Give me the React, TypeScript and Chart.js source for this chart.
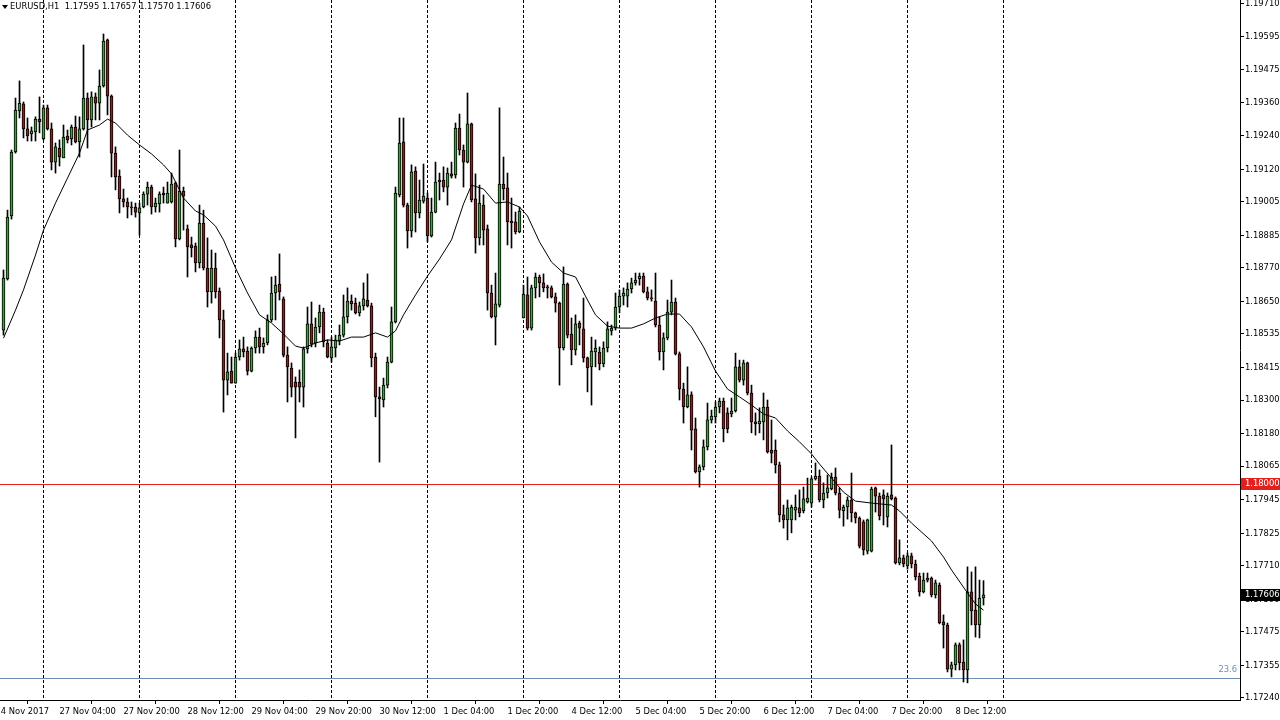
import React, { useEffect, useRef } from 'react';
import { Chart, registerables } from 'chart.js';

Chart.register(...registerables);

// ---- data (hourly bars, index 0 = 24 Nov 2017 14:00) ----
const opens = [
  1.18549, 1.18731, 1.18955, 1.19183, 1.19329, 1.19354, 1.19265, 1.19247, 1.19254, 1.19300,
  1.19229, 1.19340, 1.19265, 1.19147, 1.19197, 1.19162, 1.19240, 1.19229, 1.19272, 1.19219,
  1.19265, 1.19375, 1.19297, 1.19379, 1.19357, 1.19418, 1.19582, 1.19382, 1.19179, 1.19097,
  1.19016, 1.19005, 1.18987, 1.18987, 1.18966, 1.18987, 1.19033, 1.19058, 1.18987, 1.18998,
  1.19037, 1.19001, 1.19005, 1.19073, 1.18873, 1.19044, 1.18909, 1.18852, 1.18848, 1.18788,
  1.18930, 1.18770, 1.18685, 1.18770, 1.18688, 1.18585, 1.18371, 1.18403, 1.18360, 1.18453,
  1.18482, 1.18474, 1.18403, 1.18485, 1.18524, 1.18489, 1.18503, 1.18585, 1.18681, 1.18713,
  1.18660, 1.18460, 1.18414, 1.18364, 1.18364, 1.18346, 1.18482, 1.18571, 1.18503, 1.18560,
  1.18613, 1.18503, 1.18450, 1.18485, 1.18510, 1.18531, 1.18596, 1.18652, 1.18645, 1.18610,
  1.18635, 1.18656, 1.18635, 1.18453, 1.18311, 1.18300, 1.18353, 1.18435, 1.18578, 1.19030,
  1.19219, 1.18994, 1.18902, 1.19115, 1.18966, 1.19008, 1.19019, 1.18884, 1.18969, 1.19076,
  1.19083, 1.19058, 1.19105, 1.19101, 1.19268, 1.19190, 1.19147, 1.19283, 1.19016, 1.18877,
  1.18994, 1.18909, 1.18681, 1.18596, 1.18638, 1.19069, 1.19055, 1.18937, 1.18934, 1.18898,
  1.18592, 1.18674, 1.18556, 1.18699, 1.18738, 1.18717, 1.18702, 1.18699, 1.18667, 1.18645,
  1.18485, 1.18713, 1.18535, 1.18478, 1.18574, 1.18553, 1.18450, 1.18418, 1.18471, 1.18471,
  1.18428, 1.18485, 1.18546, 1.18556, 1.18631, 1.18670, 1.18670, 1.18695, 1.18717, 1.18731,
  1.18741, 1.18685, 1.18663, 1.18652, 1.18567, 1.18471, 1.18521, 1.18613, 1.18649, 1.18464,
  1.18339, 1.18275, 1.18318, 1.18197, 1.18044, 1.18062, 1.18133, 1.18229, 1.18240, 1.18275,
  1.18296, 1.18254, 1.18250, 1.18261, 1.18418, 1.18371, 1.18432, 1.18325, 1.18222, 1.18215,
  1.18222, 1.18275, 1.18122, 1.18122, 1.18069, 1.17891, 1.17873, 1.17873, 1.17908, 1.17916,
  1.17905, 1.17937, 1.17933, 1.18019, 1.18029, 1.17944, 1.17969, 1.17983, 1.18026, 1.17969,
  1.17905, 1.17919, 1.17944, 1.17898, 1.17880, 1.17866, 1.17762, 1.17762, 1.17987, 1.17958,
  1.17962, 1.17884, 1.17962, 1.17951, 1.17720, 1.17738, 1.17709, 1.17745, 1.17716, 1.17673,
  1.17617, 1.17659, 1.17666, 1.17606, 1.17641, 1.17510, 1.17499, 1.17342, 1.17357, 1.17428,
  1.17367, 1.17339, 1.17617, 1.17552, 1.17499, 1.17595,
];

const highs = [
  1.18763, 1.18976, 1.19190, 1.19375, 1.19436, 1.19361, 1.19304, 1.19272, 1.19308, 1.19379,
  1.19350, 1.19350, 1.19286, 1.19215, 1.19226, 1.19279, 1.19261, 1.19279, 1.19311, 1.19308,
  1.19564, 1.19393, 1.19397, 1.19393, 1.19475, 1.19603, 1.19585, 1.19386, 1.19201, 1.19119,
  1.19051, 1.19019, 1.19005, 1.19001, 1.19001, 1.19041, 1.19076, 1.19065, 1.19019, 1.19041,
  1.19058, 1.19076, 1.19108, 1.19076, 1.19190, 1.19058, 1.18923, 1.18880, 1.18859, 1.18994,
  1.18976, 1.18877, 1.18834, 1.18823, 1.18699, 1.18620, 1.18467, 1.18453, 1.18467, 1.18514,
  1.18524, 1.18489, 1.18489, 1.18546, 1.18556, 1.18521, 1.18603, 1.18738, 1.18741, 1.18820,
  1.18667, 1.18489, 1.18432, 1.18382, 1.18407, 1.18489, 1.18631, 1.18649, 1.18592, 1.18638,
  1.18627, 1.18514, 1.18524, 1.18531, 1.18567, 1.18674, 1.18699, 1.18674, 1.18663, 1.18649,
  1.18717, 1.18749, 1.18645, 1.18467, 1.18346, 1.18378, 1.18453, 1.18631, 1.19058, 1.19304,
  1.19304, 1.19001, 1.19137, 1.19130, 1.19083, 1.19140, 1.19037, 1.19019, 1.19147, 1.19108,
  1.19130, 1.19126, 1.19147, 1.19286, 1.19318, 1.19208, 1.19393, 1.19286, 1.19105, 1.19065,
  1.19030, 1.18923, 1.18709, 1.18752, 1.19340, 1.19165, 1.19108, 1.19019, 1.18969, 1.18987,
  1.18709, 1.18738, 1.18709, 1.18752, 1.18745, 1.18749, 1.18709, 1.18706, 1.18681, 1.18649,
  1.18774, 1.18717, 1.18592, 1.18603, 1.18581, 1.18663, 1.18453, 1.18524, 1.18514, 1.18489,
  1.18507, 1.18578, 1.18567, 1.18681, 1.18692, 1.18699, 1.18717, 1.18734, 1.18752, 1.18752,
  1.18752, 1.18702, 1.18692, 1.18752, 1.18596, 1.18539, 1.18656, 1.18727, 1.18663, 1.18471,
  1.18360, 1.18418, 1.18329, 1.18236, 1.18069, 1.18158, 1.18289, 1.18264, 1.18293, 1.18307,
  1.18307, 1.18272, 1.18307, 1.18467, 1.18442, 1.18442, 1.18435, 1.18353, 1.18254, 1.18272,
  1.18325, 1.18300, 1.18229, 1.18158, 1.18079, 1.17926, 1.17944, 1.17926, 1.17962, 1.17980,
  1.17990, 1.18022, 1.18026, 1.18076, 1.18051, 1.18005, 1.18033, 1.18040, 1.18058, 1.17987,
  1.17926, 1.17955, 1.18040, 1.17901, 1.17884, 1.17873, 1.17876, 1.17990, 1.17990, 1.17969,
  1.17980, 1.17969, 1.18140, 1.17955, 1.17802, 1.17748, 1.17755, 1.17755, 1.17730, 1.17684,
  1.17684, 1.17684, 1.17670, 1.17659, 1.17649, 1.17535, 1.17506, 1.17367, 1.17435, 1.17435,
  1.17446, 1.17706, 1.17688, 1.17706, 1.17659, 1.17657,
];

const lows = [
  1.18531, 1.18727, 1.18944, 1.19179, 1.19304, 1.19233, 1.19222, 1.19222, 1.19222, 1.19251,
  1.19226, 1.19261, 1.19119, 1.19108, 1.19133, 1.19162, 1.19215, 1.19208, 1.19215, 1.19165,
  1.19261, 1.19197, 1.19272, 1.19297, 1.19297, 1.19414, 1.19315, 1.19094, 1.19048, 1.18966,
  1.18987, 1.18948, 1.18959, 1.18951, 1.18887, 1.18984, 1.18994, 1.18962, 1.18969, 1.18969,
  1.19001, 1.19001, 1.19001, 1.18845, 1.18870, 1.18905, 1.18738, 1.18809, 1.18756, 1.18770,
  1.18763, 1.18631, 1.18645, 1.18663, 1.18521, 1.18257, 1.18318, 1.18360, 1.18360, 1.18442,
  1.18453, 1.18389, 1.18400, 1.18467, 1.18467, 1.18467, 1.18496, 1.18578, 1.18585, 1.18656,
  1.18453, 1.18293, 1.18311, 1.18165, 1.18293, 1.18275, 1.18467, 1.18489, 1.18489, 1.18539,
  1.18489, 1.18450, 1.18435, 1.18453, 1.18496, 1.18524, 1.18574, 1.18620, 1.18606, 1.18599,
  1.18620, 1.18631, 1.18418, 1.18240, 1.18079, 1.18275, 1.18343, 1.18432, 1.18574, 1.19023,
  1.18987, 1.18841, 1.18880, 1.18898, 1.18948, 1.19001, 1.18863, 1.18880, 1.18966, 1.19012,
  1.19041, 1.18994, 1.19090, 1.19090, 1.19172, 1.19058, 1.19144, 1.19005, 1.18823, 1.18852,
  1.18852, 1.18620, 1.18592, 1.18496, 1.18631, 1.19012, 1.18852, 1.18841, 1.18891, 1.18895,
  1.18592, 1.18549, 1.18549, 1.18663, 1.18667, 1.18685, 1.18663, 1.18663, 1.18613, 1.18353,
  1.18478, 1.18521, 1.18425, 1.18460, 1.18496, 1.18435, 1.18329, 1.18282, 1.18418, 1.18407,
  1.18418, 1.18471, 1.18531, 1.18549, 1.18610, 1.18638, 1.18631, 1.18681, 1.18709, 1.18709,
  1.18681, 1.18656, 1.18652, 1.18560, 1.18442, 1.18407, 1.18514, 1.18603, 1.18460, 1.18300,
  1.18218, 1.18272, 1.18122, 1.18040, 1.17990, 1.18051, 1.18122, 1.18218, 1.18218, 1.18254,
  1.18151, 1.18183, 1.18240, 1.18257, 1.18364, 1.18353, 1.18318, 1.18183, 1.18175, 1.18183,
  1.18158, 1.18111, 1.18076, 1.18040, 1.17866, 1.17844, 1.17802, 1.17827, 1.17873, 1.17884,
  1.17898, 1.17933, 1.17919, 1.18015, 1.17937, 1.17916, 1.17951, 1.17980, 1.17962, 1.17880,
  1.17851, 1.17876, 1.17866, 1.17862, 1.17773, 1.17748, 1.17752, 1.17759, 1.17901, 1.17873,
  1.17855, 1.17848, 1.17944, 1.17716, 1.17713, 1.17706, 1.17698, 1.17702, 1.17659, 1.17602,
  1.17613, 1.17652, 1.17599, 1.17595, 1.17503, 1.17417, 1.17332, 1.17314, 1.17339, 1.17339,
  1.17296, 1.17293, 1.17499, 1.17456, 1.17453, 1.17570,
];

const closes = [
  1.18734, 1.18951, 1.19183, 1.19332, 1.19357, 1.19265, 1.19240, 1.19258, 1.19300, 1.19290,
  1.19340, 1.19265, 1.19147, 1.19201, 1.19165, 1.19236, 1.19226, 1.19272, 1.19219, 1.19265,
  1.19375, 1.19297, 1.19379, 1.19357, 1.19418, 1.19578, 1.19382, 1.19179, 1.19094, 1.19016,
  1.19005, 1.18987, 1.18984, 1.18969, 1.18984, 1.19033, 1.19058, 1.18987, 1.19001, 1.19033,
  1.19030, 1.19037, 1.19069, 1.18873, 1.19044, 1.19026, 1.18845, 1.18841, 1.18788, 1.18930,
  1.18770, 1.18685, 1.18770, 1.18685, 1.18585, 1.18371, 1.18400, 1.18360, 1.18453, 1.18482,
  1.18471, 1.18403, 1.18485, 1.18524, 1.18489, 1.18503, 1.18585, 1.18681, 1.18709, 1.18685,
  1.18460, 1.18418, 1.18346, 1.18346, 1.18346, 1.18482, 1.18571, 1.18499, 1.18560, 1.18613,
  1.18507, 1.18453, 1.18489, 1.18514, 1.18531, 1.18596, 1.18652, 1.18642, 1.18610, 1.18635,
  1.18660, 1.18635, 1.18450, 1.18311, 1.18304, 1.18353, 1.18435, 1.18578, 1.19037, 1.19215,
  1.18994, 1.18902, 1.19112, 1.18966, 1.19012, 1.19026, 1.18884, 1.18969, 1.19076, 1.19083,
  1.19058, 1.19108, 1.19097, 1.19268, 1.19190, 1.19147, 1.19283, 1.19012, 1.18877, 1.19001,
  1.18905, 1.18681, 1.18596, 1.18642, 1.19069, 1.19051, 1.18934, 1.18930, 1.18898, 1.18973,
  1.18677, 1.18556, 1.18699, 1.18738, 1.18717, 1.18699, 1.18699, 1.18667, 1.18645, 1.18485,
  1.18713, 1.18531, 1.18478, 1.18571, 1.18556, 1.18450, 1.18414, 1.18474, 1.18485, 1.18428,
  1.18485, 1.18553, 1.18556, 1.18631, 1.18670, 1.18681, 1.18695, 1.18717, 1.18727, 1.18741,
  1.18685, 1.18663, 1.18660, 1.18567, 1.18471, 1.18521, 1.18613, 1.18649, 1.18464, 1.18339,
  1.18275, 1.18318, 1.18193, 1.18044, 1.18062, 1.18133, 1.18229, 1.18243, 1.18275, 1.18296,
  1.18197, 1.18197, 1.18261, 1.18418, 1.18371, 1.18432, 1.18325, 1.18222, 1.18215, 1.18225,
  1.18275, 1.18115, 1.18111, 1.18069, 1.17891, 1.17873, 1.17916, 1.17919, 1.17919, 1.17898,
  1.17948, 1.17951, 1.18019, 1.18029, 1.17944, 1.17969, 1.17987, 1.18026, 1.17969, 1.17908,
  1.17919, 1.17944, 1.17898, 1.17880, 1.17780, 1.17766, 1.17873, 1.17983, 1.17958, 1.17887,
  1.17948, 1.17958, 1.17948, 1.17720, 1.17738, 1.17716, 1.17745, 1.17716, 1.17670, 1.17617,
  1.17659, 1.17666, 1.17606, 1.17649, 1.17506, 1.17499, 1.17342, 1.17357, 1.17428, 1.17364,
  1.17339, 1.17617, 1.17549, 1.17499, 1.17595, 1.17606,
];

// moving average (at these bar indices)
const maBars = [
  0, 3, 5, 8, 10, 13, 16, 19, 21, 24, 26, 28, 31, 34, 37, 40, 42, 45, 48, 50,
  53, 55, 58, 61, 64, 67, 70, 73, 75, 78, 81, 84, 87, 90, 93, 96, 98, 100, 103, 106,
  109, 112, 115, 117, 120, 123, 126, 129, 131, 134, 137, 140, 143, 146, 148, 151, 154, 157, 160, 163,
  166, 169, 172, 175, 178, 181, 184, 187, 190, 193, 196, 199, 202, 204, 207, 210, 213, 217, 222, 224,
  227, 232, 235, 237, 241, 243, 245,
];
const maValues = [
  1.18520, 1.18620, 1.18692, 1.18816, 1.18905, 1.19001, 1.19090, 1.19179, 1.19261, 1.19279,
  1.19300, 1.19286, 1.19243, 1.19208, 1.19176, 1.19137, 1.19105, 1.19019, 1.18973, 1.18959,
  1.18919, 1.18870, 1.18770, 1.18681, 1.18603, 1.18574, 1.18535, 1.18492, 1.18485, 1.18503,
  1.18514, 1.18510, 1.18524, 1.18524, 1.18539, 1.18524, 1.18546, 1.18603, 1.18674, 1.18741,
  1.18802, 1.18870, 1.18998, 1.19065, 1.19051, 1.19001, 1.19005, 1.18987, 1.18955, 1.18863,
  1.18791, 1.18752, 1.18738, 1.18656, 1.18603, 1.18563, 1.18556, 1.18556, 1.18571, 1.18592,
  1.18606, 1.18606, 1.18560, 1.18489, 1.18403, 1.18339, 1.18311, 1.18282, 1.18250, 1.18236,
  1.18190, 1.18151, 1.18108, 1.18072, 1.18022, 1.17972, 1.17940, 1.17933, 1.17926, 1.17905,
  1.17862, 1.17798, 1.17741, 1.17695, 1.17613, 1.17574, 1.17552,
];

// time axis
const timeTickBars = [-2, 14, 30, 46, 62, 78, 94, 110, 126, 142, 158, 174, 190, 206, 222, 238];
const timeTickLabels = [
  '24 Nov 2017', '27 Nov 04:00', '27 Nov 20:00', '28 Nov 12:00', '29 Nov 04:00', '29 Nov 20:00',
  '30 Nov 12:00', '1 Dec 04:00', '1 Dec 20:00', '4 Dec 12:00', '5 Dec 04:00', '5 Dec 20:00',
  '6 Dec 12:00', '7 Dec 04:00', '7 Dec 20:00', '8 Dec 12:00',
];
const daySeparatorBars = [10, 34, 58, 82, 106, 130, 154, 178, 202, 226, 250];

// price axis
const priceTicks = [
  1.1971, 1.19595, 1.19475, 1.1936, 1.1924, 1.1912, 1.19005, 1.18885, 1.1877, 1.1865, 1.18535,
  1.18415, 1.183, 1.1818, 1.18065, 1.17945, 1.17825, 1.1771, 1.1759, 1.17475, 1.17355, 1.1724,
];
const priceMin = 1.17232;
const priceMax = 1.19724;

const levelPrice = 1.18;
const fiboPrice = 1.1731;
const fiboLabel = '23.6';
const bidPrice = 1.17606;
const symbolTitle = 'EURUSD,H1  1.17595 1.17657 1.17570 1.17606';

const FONT = '"DejaVu Sans Condensed", "DejaVu Sans", sans-serif';
const FONT_SIZE = 9.3;
const BULL = '#33a833';
const BEAR = '#9c1b1b';

const overlayPlugin = {
  id: 'mt4Overlay',
  beforeDatasetsDraw(chart: any) {
    const { ctx, chartArea: a, scales } = chart;
    const xs = scales.x;
    const ys = scales.y;
    ctx.save();
    ctx.lineWidth = 1;
    ctx.strokeStyle = '#000';
    ctx.setLineDash([3, 2]);
    for (const b of daySeparatorBars) {
      const px = xs.getPixelForValue(b);
      ctx.beginPath();
      ctx.moveTo(px, a.top);
      ctx.lineTo(px, a.bottom);
      ctx.stroke();
    }
    ctx.setLineDash([]);
    const ly = Math.round(ys.getPixelForValue(levelPrice)) + 0.5;
    ctx.strokeStyle = '#e3211c';
    ctx.beginPath();
    ctx.moveTo(a.left, ly);
    ctx.lineTo(a.right, ly);
    ctx.stroke();
    const fy = Math.round(ys.getPixelForValue(fiboPrice)) + 0.5;
    ctx.strokeStyle = '#6f8fb8';
    ctx.beginPath();
    ctx.moveTo(a.left, fy);
    ctx.lineTo(a.right, fy);
    ctx.stroke();
    ctx.restore();
  },
  afterDraw(chart: any) {
    const { ctx, chartArea: a, scales } = chart;
    const ys = scales.y;
    ctx.save();
    ctx.font = `${FONT_SIZE}px ${FONT}`;
    ctx.textBaseline = 'middle';
    // fibo label
    const fy = Math.round(ys.getPixelForValue(fiboPrice));
    ctx.fillStyle = '#6f8fb8';
    ctx.textAlign = 'right';
    ctx.fillText(fiboLabel, a.right - 3, fy - 8);
    // axis price boxes
    const boxes = [
      { price: levelPrice, bg: '#e3211c' },
      { price: bidPrice, bg: '#000000' },
    ];
    ctx.textAlign = 'left';
    for (const bx of boxes) {
      const py = Math.round(ys.getPixelForValue(bx.price));
      ctx.fillStyle = bx.bg;
      ctx.fillRect(a.right + 1, py - 6, chart.width - a.right - 1, 12);
      ctx.fillStyle = '#ffffff';
      ctx.fillText(bx.price.toFixed(5), a.right + 5, py);
    }
    // title
    ctx.fillStyle = '#000';
    ctx.beginPath();
    ctx.moveTo(2, 5);
    ctx.lineTo(8, 5);
    ctx.lineTo(5, 9);
    ctx.closePath();
    ctx.fill();
    ctx.fillText(symbolTitle, 10, 7);
    ctx.restore();
  },
};

export default function App() {
  const ref = useRef<HTMLCanvasElement | null>(null);

  useEffect(() => {
    if (!ref.current) return;
    const bodies = opens.map((o, i) => ({ x: i, y: [o, closes[i]] }));
    const wicks = highs.map((h, i) => ({ x: i, y: [lows[i], h] }));
    const bodyColors = opens.map((o, i) => (closes[i] >= o ? BULL : BEAR));
    const ma = maBars.map((b, k) => ({ x: b, y: maValues[k] }));

    const chart = new Chart(ref.current, {
      type: 'bar',
      data: {
        datasets: [
          {
            type: 'bar',
            data: wicks as any,
            backgroundColor: '#000',
            borderWidth: 0,
            barThickness: 1,
            grouped: false,
            order: 3,
          } as any,
          {
            type: 'bar',
            data: bodies as any,
            backgroundColor: bodyColors,
            borderColor: '#000',
            borderWidth: 1,
            borderSkipped: false,
            barThickness: 3,
            minBarLength: 1,
            grouped: false,
            order: 2,
          } as any,
          {
            type: 'line',
            data: ma as any,
            borderColor: '#000',
            borderWidth: 1,
            pointRadius: 0,
            tension: 0,
            order: 1,
          } as any,
        ],
      },
      options: {
        responsive: false,
        maintainAspectRatio: false,
        animation: false,
        devicePixelRatio: 1,
        events: [],
        layout: { padding: 0, autoPadding: false },
        plugins: { legend: { display: false }, tooltip: { enabled: false } },
        scales: {
          x: {
            type: 'linear',
            min: -0.875,
            max: 309.125,
            offset: false,
            afterBuildTicks: (s: any) => {
              s.ticks = timeTickBars.map((v) => ({ value: v }));
            },
            afterFit: (s: any) => {
              s.height = 20;
              s.paddingLeft = 0;
              s.paddingRight = 0;
            },
            ticks: {
              autoSkip: false,
              maxRotation: 0,
              minRotation: 0,
              align: 'start',
              padding: 2,
              color: '#000',
              font: { family: FONT, size: FONT_SIZE },
              callback: (_v: any, idx: number) => timeTickLabels[idx],
            },
            grid: { drawOnChartArea: false, drawTicks: true, tickLength: 4, color: '#000' },
            border: { display: true, color: '#000', width: 1 },
          } as any,
          y: {
            type: 'linear',
            position: 'right',
            min: priceMin,
            max: priceMax,
            afterBuildTicks: (s: any) => {
              s.ticks = priceTicks.map((v) => ({ value: v }));
            },
            afterFit: (s: any) => {
              s.width = 40;
              s.paddingTop = 0;
              s.paddingBottom = 0;
            },
            ticks: {
              padding: 1,
              color: '#000',
              font: { family: FONT, size: FONT_SIZE },
              callback: (v: any) => Number(v).toFixed(5),
            },
            grid: { drawOnChartArea: false, drawTicks: true, tickLength: 4, color: '#000' },
            border: { display: true, color: '#000', width: 1 },
          } as any,
        },
      },
      plugins: [overlayPlugin],
    });
    return () => chart.destroy();
  }, []);

  return (
    <div style={{ position: 'fixed', left: 0, top: 0, width: 1280, height: 720, background: '#fff' }}>
      <canvas ref={ref} width={1280} height={720} style={{ display: 'block' }} />
    </div>
  );
}
